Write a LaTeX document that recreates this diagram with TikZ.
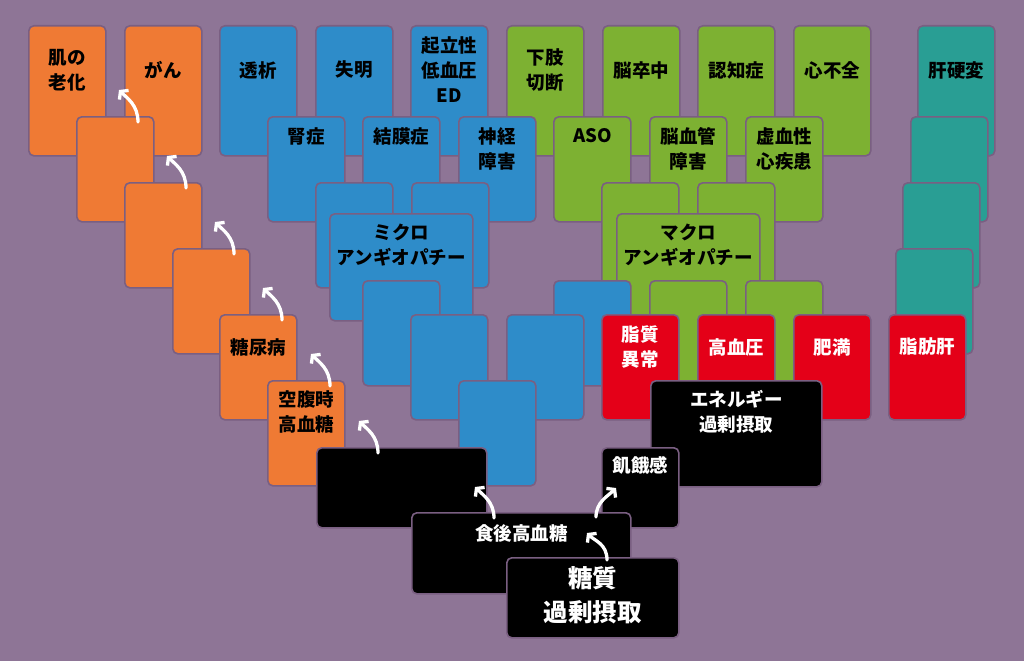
\documentclass[tikz,border=0pt]{standalone}
\usepackage{fontspec}
\setmainfont{Noto Sans CJK JP}
\usetikzlibrary{arrows.meta}
\definecolor{bg}{HTML}{8E7596}
\definecolor{edge}{HTML}{7A5F82}
\definecolor{co}{HTML}{EF7A34}
\definecolor{cb}{HTML}{2E8CC9}
\definecolor{cg}{HTML}{7DB132}
\definecolor{ct}{HTML}{299E94}
\definecolor{cr}{HTML}{E40018}
\tikzset{
	card/.style={draw=edge,line width=1.6pt,rounded corners=5pt,anchor=north west,inner sep=0pt,minimum width=77pt,minimum height=105pt},
	tall/.style={minimum height=130pt},
	wide/.style={minimum width=143pt,minimum height=107pt},
	txt/.style={font=\fontsize{18.5}{25}\selectfont\bfseries,text=black,align=center,anchor=center},
	wtxt/.style={text=white},
	arr/.style={->,draw=white,line width=3.3pt,line cap=round}
}
% card: [label options]{name}{x,y}{card options}{text drop}{text}
\newcommand\card[6][]{\node[card,#4,label={[txt,#1,yshift=-#5pt]north:{#6}}] (#2) at (#3) {};}
\begin{document}
\begin{tikzpicture}[x=1pt,y=-1pt,>={Straight Barb[length=5pt,width=13pt]}]
	\useasboundingbox (0,0) rectangle (1024,661);
	\fill[bg] (0,0) rectangle (1024,661);
	% back row
	\foreach \n/\x/\c/\lbl in {o1/28/co/{肌の\\老化}, o0/124/co/がん, b1/219/cb/透析, b2/315/cb/失明, b3/410/cb/{起立性\\低血圧\\ED}, g1/506/cg/{下肢\\切断}, g2/602/cg/脳卒中, g3/697/cg/認知症, g4/793/cg/心不全, t1/917/ct/肝硬変}
		\card{\n}{\x,25}{tall,fill=\c}{45}{\lbl};
	% second row
	\foreach \n/\x/\c/\o/\lbl in {b4/267/cb/20/腎症, b5/362/cb/20/結膜症, b6/458/cb/33/{神経\\障害}, g5/553/cg/20/ASO, g6/649/cg/33/{脳血管\\障害}, g7/745/cg/33/{虚血性\\心疾患}}
		\card{\n}{\x,116}{fill=\c}{\o}{\lbl};
	\foreach \n/\x/\y/\c in {o2/76/116/co, t2/910/116/ct, o3/124/182/co, b7/315/182/cb, b8/411/182/cb, g8/601/182/cg, g9/697/182/cg, t3/902/182/ct}
		\node[card,fill=\c] (\n) at (\x,\y) {};
	\card{mi}{329,213}{wide,fill=cb}{32}{ミクロ\\アンギオパチー}
	\card{ma}{616,213}{wide,fill=cg}{32}{マクロ\\アンギオパチー}
	\foreach \n/\x/\y/\c in {o4/172/248/co, t4/895/248/ct, b9/362/280/cb, g10/649/280/cg, g11/745/280/cg, b10/553/280/cb, b11/410/314/cb, b12/506/314/cb}
		\node[card,fill=\c] (\n) at (\x,\y) {};
	\card{o5}{219,314}{fill=co}{33}{糖尿病}
	\foreach \n/\x/\lbl in {r1/601/{脂質\\異常}, r2/697/高血圧, r3/793/肥満, r4/888/脂肪肝}
		\card[wtxt]{\n}{\x,314}{fill=cr}{33}{\lbl};
	\card{o6}{267,380}{fill=co}{32}{空腹時\\高血糖}
	\node[card,fill=cb] (b13) at (458,380) {};
	% black row
	\card[wtxt]{en}{650,380}{fill=black,minimum width=171pt,minimum height=106pt}{32}{エネルギー\\過剰摂取}
	\node[card,fill=black,minimum width=170pt,minimum height=80pt] (bl) at (316,447) {};
	\card[wtxt]{hu}{601,447}{fill=black,minimum height=80pt}{18}{飢餓感}
	\card[wtxt]{po}{411,512}{fill=black,minimum width=219pt,minimum height=81pt}{21}{食後高血糖}
	\card[wtxt,font=\fontsize{24.5}{34}\selectfont\bfseries]{su}{506,557}{fill=black,minimum width=172pt,minimum height=80pt}{38}{糖質\\過剰摂取}
	% arrows
	\foreach \s/\a/\b in {o2/62/43, o3/62/43, o4/62/43, o5/63/44, o6/63/44, bl/62/43}
		\draw[arr] ([shift={(\a,6)}]\s.north west) .. controls +(0,-17) and +(8,8) .. ([shift={(\b,-26)}]\s.north west);
	\draw[arr] ([shift={(83,6)}]po.north west) .. controls +(0,-16) and +(8,8) .. ([shift={(64,-25)}]po.north west);
	\draw[arr] ([shift={(101,3)}]su.north west) .. controls +(0,-16) and +(8,8) .. ([shift={(81,-24)}]su.north west);
	\draw[arr] ([shift={(185,5)}]po.north west) .. controls +(0,-15) and +(-8,8) .. ([shift={(205,-24)}]po.north west);
\end{tikzpicture}
\end{document}
